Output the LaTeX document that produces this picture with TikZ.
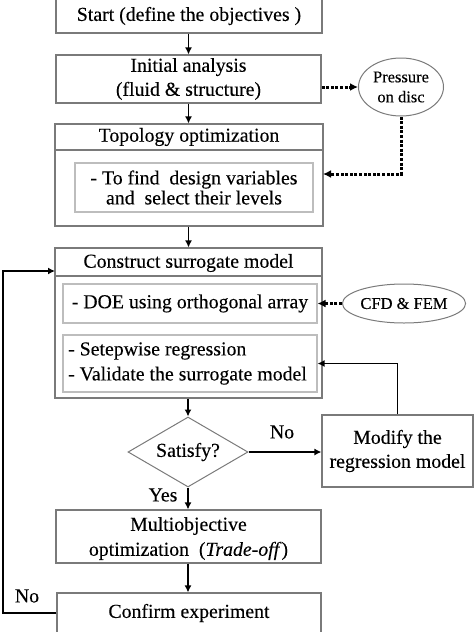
\documentclass[tikz,border=0pt]{standalone}
\usepackage{fontspec}
\setmainfont[FakeBold=0.2]{Liberation Serif}
\usetikzlibrary{shapes.geometric,arrows.meta}
\definecolor{boxgray}{HTML}{7A7A7A}
\definecolor{ingray}{HTML}{BDBDBD}
\begin{document}
\begin{tikzpicture}[x=1pt,y=-1pt,
  mainfont/.style={font=\fontsize{19.8}{24}\selectfont},
  smallfont/.style={font=\fontsize{16.5}{20}\selectfont},
  outbox/.style={draw=boxgray,line width=1.1pt,rectangle,inner sep=0pt,align=center,mainfont},
  inbox/.style={draw=ingray,line width=1.1pt,rectangle,inner sep=0pt,mainfont},
  txt/.style={inner sep=0pt,mainfont},
  oval/.style={draw=boxgray,line width=1pt,ellipse,inner sep=0pt,align=center,smallfont},
  flow/.style={line width=1.5pt,-{Latex[length=7pt,width=7pt]}},
  dots/.style={line width=3pt,dash pattern=on 3pt off 1.6pt,-{Latex[length=8pt,width=8pt]}}]
\useasboundingbox (0,0) rectangle (474,632);

% boxes
\node[outbox,minimum width=266pt,minimum height=34pt] (start) at (189,16) {Start (define the objectives )};
\node[outbox,minimum width=265pt,minimum height=48pt] (initial) at (188.5,79) {Initial analysis\\(fluid \& structure)};

\node[outbox,minimum width=268pt,minimum height=102pt] (topo) at (189,175) {};
\draw[draw=boxgray,line width=1.1pt] (topo.west |- 0,150) -- (topo.east |- 0,150);
\node[txt] (topohead) at (189,137) {Topology optimization};
\node[inbox,minimum width=238pt,minimum height=49pt,align=center,font=\fontsize{19.8}{20}\selectfont] (topoin) at (194,187.5) {- To find\ \ design variables\\and\ \ select their\ levels};

\node[outbox,minimum width=267pt,minimum height=150pt] (construct) at (188.5,323) {};
\draw[draw=boxgray,line width=1.1pt] (construct.west |- 0,276) -- (construct.east |- 0,276);
\node[txt] (conhead) at (188.5,263) {Construct surrogate model};
\node[inbox,minimum width=254pt,minimum height=39pt] (doe) at (190,303.5) {- DOE using orthogonal array};
\node[inbox,minimum width=254pt,minimum height=57pt] (reg) at (190,363.5) {};
\node[txt,anchor=west,align=left,font=\fontsize{19.8}{25}\selectfont] (regtext) at (68,363.5) {- Setepwise regression\\- Validate the surrogate model};

\node[draw=boxgray,line width=1pt,diamond,aspect=1.714,minimum width=120pt,minimum height=70pt,inner sep=0pt,mainfont] (sat) at (188,452) {Satisfy?};
\node[outbox,minimum width=151pt,minimum height=72pt] (modify) at (397.5,451) {Modify the\\regression model};
\node[outbox,minimum width=265pt,minimum height=53pt] (multi) at (188.5,536.5) {};
\node[txt,align=center,font=\fontsize{19.8}{25}\selectfont] (multitext) at (188.5,538.5) {Multiobjective\\optimization\ \ (\textit{Trade-off})};
\node[outbox,minimum width=264pt,minimum height=40pt] (confirm) at (189,613) {Confirm experiment};

\node[oval,minimum width=85pt,minimum height=58pt] (press) at (401,87) {Pressure\\on disc};
\node[oval,minimum width=112pt,minimum height=39pt] (cfd) at (404,303.5) {CFD \& FEM};

% labels
\node[txt] (nolab1) at (282,432) {No};
\node[txt] (yeslab) at (163,495) {Yes};
\node[txt] (nolab2) at (27,596) {No};

% coordinates
\coordinate (tin) at (323,174);
\coordinate (cin) at (55,271);
\coordinate (loopx) at (3,0);

% main arrows
\draw[flow] (start.south -| initial.north) -- (initial.north);
\draw[flow] (initial.south) -- (initial.south |- topo.north);
\draw[flow] (topo.south -| initial.south) -- (initial.south |- construct.north);
\draw[flow] (construct.south -| sat.north) -- (sat.north);
\draw[flow] (sat.south) -- (sat.south |- multi.north);
\draw[flow] (multi.south -| sat.south) -- (sat.south |- confirm.north);
\draw[flow] (sat.east) -- (modify.west |- sat.east);
\draw[flow] (modify.north) |- (reg.east);
\draw[flow] (confirm.west) -- (confirm.west -| loopx) -- (loopx |- cin) -- (cin);

% dotted arrows
\draw[dots] (initial.east |- press.west) -- (press.west);
\draw[dots] (press.south) |- (tin);
\draw[dots] (cfd.west) -- (doe.east);
\end{tikzpicture}
\end{document}
